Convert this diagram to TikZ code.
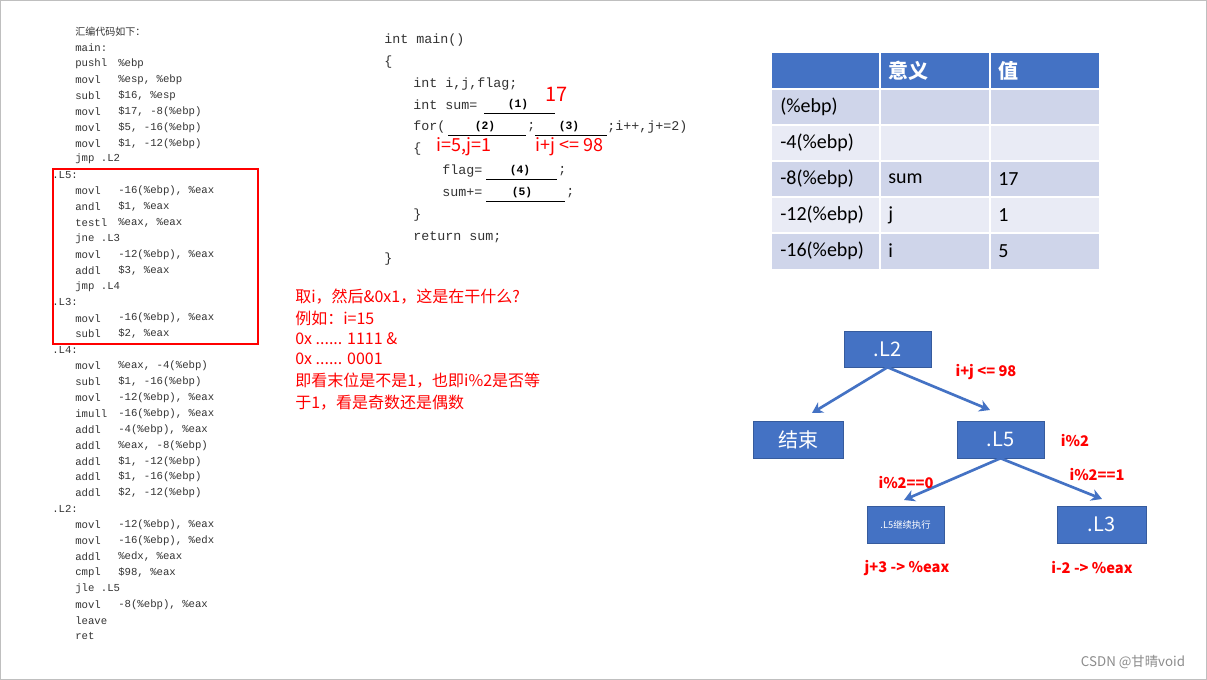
\documentclass[tikz,border=0pt]{standalone}
\usepackage{fontspec}
\setmainfont{Carlito}
\setmonofont{Liberation Mono}
\newfontfamily\cjk{Noto Sans CJK SC}
\usetikzlibrary{arrows.meta}
\definecolor{bl}{HTML}{4472C4}
\definecolor{rowa}{HTML}{CFD5EA}
\definecolor{rowb}{HTML}{E9EBF5}
\definecolor{rd}{HTML}{FF0000}
\tikzset{
 asm/.style={anchor=west,inner sep=0,font=\ttfamily\fontsize{8}{9}\selectfont,text=black!80},
 code/.style={anchor=west,inner sep=0,font=\ttfamily\fontsize{10}{12}\selectfont,text=black!80},
 blank/.style={inner sep=0,font=\fontsize{8.5}{10}\selectfont\ttfamily\bfseries},
 note/.style={anchor=west,inner sep=0,text=rd,font=\cjk\fontsize{12}{14}\selectfont},
 cell/.style={anchor=west,inner sep=0,font=\fontsize{15}{18}\selectfont},
 tbox/.style={draw=bl!80!black,fill=bl,text=white,inner sep=0,font=\fontsize{15}{18}\selectfont\cjk},
 lab/.style={inner sep=0,text=rd,font=\cjk\bfseries\fontsize{11}{13}\selectfont},
 arr/.style={draw=bl,line width=2pt,-{Stealth[length=8pt,width=9pt]}}
}
\begin{document}
\begin{tikzpicture}[x=0.75pt,y=-0.75pt]
\useasboundingbox (0,0) rectangle (1207,680);
\fill[white] (0,0) rectangle (1207,680);
\draw[black!25] (0.5,0.5) rectangle (1206.5,679.5);
% assembly
\def\ystep{15.9}
\def\tmpL{L}
\foreach [count=\i from 0] \a/\b in {
 {}/{},{main:}/{},{pushl}/{\%ebp},{movl}/{\%esp, \%ebp},{subl}/{\$16, \%esp},{movl}/{\$17, -8(\%ebp)},{movl}/{\$5, -16(\%ebp)},{movl}/{\$1, -12(\%ebp)},{jmp .L2}/{},
 {L}/{.L5:},{movl}/{-16(\%ebp), \%eax},{andl}/{\$1, \%eax},{testl}/{\%eax, \%eax},{jne .L3}/{},{movl}/{-12(\%ebp), \%eax},{addl}/{\$3, \%eax},{jmp .L4}/{},
 {L}/{.L3:},{movl}/{-16(\%ebp), \%eax},{subl}/{\$2, \%eax},
 {L}/{.L4:},{movl}/{\%eax, -4(\%ebp)},{subl}/{\$1, -16(\%ebp)},{movl}/{-12(\%ebp), \%eax},{imull}/{-16(\%ebp), \%eax},{addl}/{-4(\%ebp), \%eax},{addl}/{\%eax, -8(\%ebp)},{addl}/{\$1, -12(\%ebp)},{addl}/{\$1, -16(\%ebp)},{addl}/{\$2, -12(\%ebp)},
 {L}/{.L2:},{movl}/{-12(\%ebp), \%eax},{movl}/{-16(\%ebp), \%edx},{addl}/{\%edx, \%eax},{cmpl}/{\$98, \%eax},{jle .L5}/{},{movl}/{-8(\%ebp), \%eax},{leave}/{},{ret}/{}}{
 \pgfmathsetmacro\yy{32+\i*\ystep}
 \ifx\a\empty\else
  \ifx\a\tmpL
   \node[asm] (al\i) at (52,\yy) {\b};
  \else
   \node[asm] (am\i) at (75,\yy) {\a};
   \node[asm] (ao\i) at (118,\yy) {\b};
  \fi
 \fi
}
\node[asm,font=\cjk\fontsize{7.5}{9}\selectfont] (ahead) at (75,32) {汇编代码如下：};
\draw[rd,line width=1.6pt] (53,169) rectangle (258,344);
% C code
\node[code] (c1) at (384,40) {int main()};
\node[code] (c2) at (384,62) {\{};
\node[code] (c3) at (413,84) {int i,j,flag;};
\node[code] (c4) at (413,105) {int sum=};
\draw (484,113) -- (555,113); \node[blank] (b1) at (518,105) {(1)};
\node[code] (c5) at (413,127) {for(};
\draw (448,135) -- (526,135); \node[blank] (b2) at (485,127) {(2)};
\node[code] (c5b) at (527,127) {;};
\draw (535,135) -- (607,135); \node[blank] (b3) at (569,127) {(3)};
\node[code] (c5c) at (607,127) {;i++,j+=2)};
\node[code] (c6) at (413,149) {\{};
\node[code] (c7) at (442,171) {flag=};
\draw (486,179) -- (557,179); \node[blank] (b4) at (520,171) {(4)};
\node[code] (c7b) at (558,171) {;};
\node[code] (c8) at (442,193) {sum+=};
\draw (486,201) -- (565,201); \node[blank] (b5) at (522,193) {(5)};
\node[code] (c8b) at (566,193) {;};
\node[code] (c9) at (413,215) {\}};
\node[code] (c10) at (413,237) {return sum;};
\node[code] (c11) at (384,259) {\}};
\node[note,font=\cjk\fontsize{15}{17}\selectfont] (r17) at (545,94) {17};
\node[note,font=\cjk\fontsize{13.5}{16}\selectfont] (r2) at (436,147) {i=5,j=1};
\node[note,font=\cjk\fontsize{13.5}{16}\selectfont] (r3) at (535,147) {i+j <= 98};
% red paragraph
\node[note] (p1) at (295,297) {取i，然后\&0x1，这是在干什么?};
\node[note] (p2) at (295,318) {例如：i=15};
\node[note] (p3) at (295,339) {0x ...... 1111 \&};
\node[note] (p4) at (295,359) {0x ...... 0001};
\node[note] (p5) at (295,381) {即看末位是不是1，也即i\%2是否等};
\node[note] (p6) at (295,403) {于1，看是奇数还是偶数};
% table
\fill[bl] (772,53) rectangle (1099,89);
\fill[rowa] (772,89) rectangle +(327,36);
\fill[rowb] (772,125) rectangle +(327,36);
\fill[rowa] (772,161) rectangle +(327,36);
\fill[rowb] (772,197) rectangle +(327,36);
\fill[rowa] (772,233) rectangle +(327,36);
\foreach \yy in {89,125,161,197,233}{\draw[white,line width=1pt] (772,\yy) -- (1099,\yy);}
\draw[white,line width=1pt] (880,53) -- (880,269) (990,53) -- (990,269);
\node[cell,text=white,font=\cjk\bfseries\fontsize{15}{18}\selectfont] (h1) at (888,71) {意义};
\node[cell,text=white,font=\cjk\bfseries\fontsize{15}{18}\selectfont] (h2) at (998,71) {值};
\node[cell] (t1) at (780,107) {(\%ebp)};
\node[cell] (t2) at (780,143) {-4(\%ebp)};
\node[cell] (t3) at (780,179) {-8(\%ebp)};
\node[cell] (t3b) at (888,179) {sum};
\node[cell] (t3c) at (998,179) {17};
\node[cell] (t4) at (780,215) {-12(\%ebp)};
\node[cell] (t4b) at (888,215) {j};
\node[cell] (t4c) at (998,215) {1};
\node[cell] (t5) at (780,251) {-16(\%ebp)};
\node[cell] (t5b) at (888,251) {i};
\node[cell] (t5c) at (998,251) {5};
% tree
\node[tbox,minimum width=87*0.75pt,minimum height=36*0.75pt] (L2) at (887.5,349) {.L2};
\node[tbox,minimum width=90*0.75pt,minimum height=37*0.75pt] (end) at (798,439.5) {结束};
\node[tbox,minimum width=87*0.75pt,minimum height=37*0.75pt] (L5) at (1000.5,439.5) {.L5};
\node[tbox,minimum width=77*0.75pt,minimum height=37*0.75pt,font=\cjk\fontsize{7}{8}\selectfont] (L5c) at (905.5,524.5) {.L5继续执行};
\node[tbox,minimum width=89*0.75pt,minimum height=37*0.75pt] (L3) at (1101.5,524.5) {.L3};
\coordinate (e1) at (812,413);
\coordinate (e2) at (990,410);
\coordinate (e3) at (904,500);
\coordinate (e4) at (1102,499);
\draw[arr] (L2.south) -- (e1);
\draw[arr] (L2.south) -- (e2);
\draw[arr] (L5.south) -- (e3);
\draw[arr] (L5.south) -- (e4);
\node[lab] (l1) at (986,372) {i+j <= 98};
\node[lab] (l2) at (1075,441) {i\%2};
\node[lab] (l3) at (906,483) {i\%2==0};
\node[lab] (l4) at (1097,475) {i\%2==1};
\node[lab] (l5) at (907,568) {j+3 -> \%eax};
\node[lab] (l6) at (1092,568) {i-2 -> \%eax};
\node[inner sep=0,text=black!45,font=\cjk\fontsize{10}{12}\selectfont] (wm) at (1133,662) {CSDN @甘晴void};
\end{tikzpicture}
\end{document}
